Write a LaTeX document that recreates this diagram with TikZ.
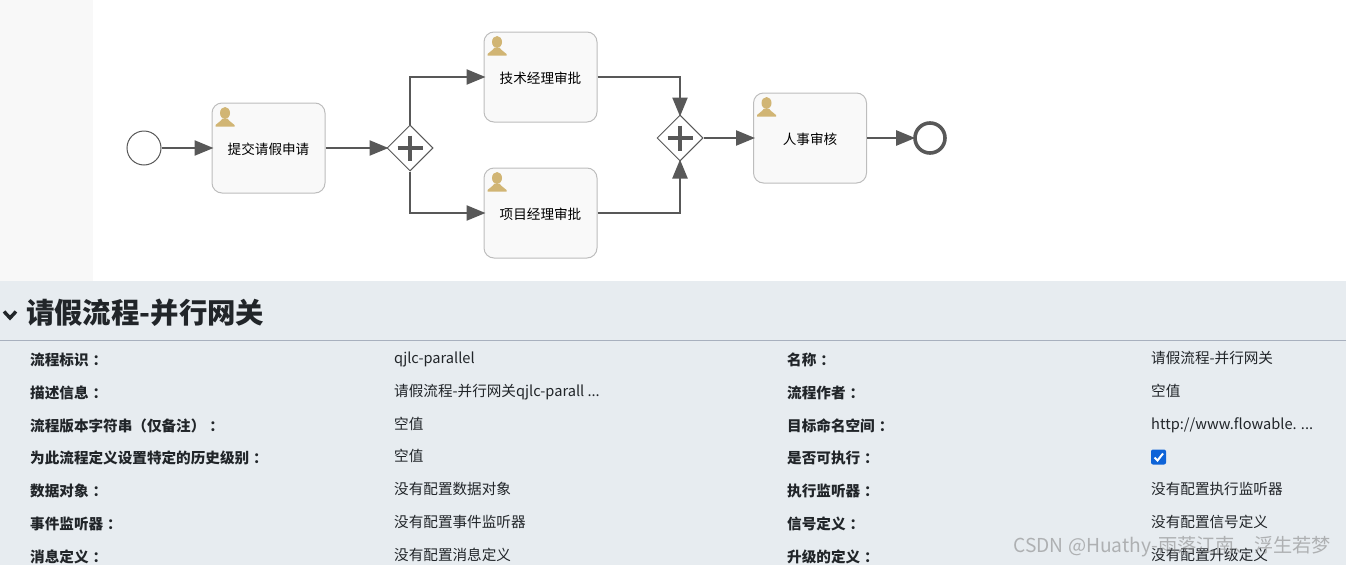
\documentclass[tikz,border=0pt]{standalone}
\usepackage{fontspec}
\setmainfont{Noto Sans CJK SC}
\usetikzlibrary{arrows.meta,shapes.geometric}
\definecolor{flowgray}{HTML}{585858}
\definecolor{panelbg}{HTML}{E7ECF0}
\definecolor{stripbg}{HTML}{F8F8F8}
\definecolor{taskbg}{HTML}{F9F9F9}
\definecolor{taskline}{HTML}{BDBDBD}
\definecolor{usercolor}{HTML}{D1B574}
\definecolor{inkcolor}{HTML}{212529}
\definecolor{checkblue}{HTML}{0D63D8}
\definecolor{ruleline}{HTML}{A8B0BE}
\newcommand{\descvalue}{请假流程-并行网关qjlc-parall ...}
\newcommand{\nsvalue}{http://www.flowable. ...}
\newcommand{\fieldcolon}{\hspace{4pt}：}
\tikzset{
	task/.style={draw=taskline,fill=taskbg,line width=1pt,rounded corners=10pt,minimum width=113pt,minimum height=90pt,inner sep=0pt,text height=14pt,text depth=1.6pt,font=\fontsize{13.6}{16}\selectfont,text=black},
	gateway/.style={diamond,aspect=1,draw=flowgray,fill=white,line width=1pt,minimum size=46pt,inner sep=0pt,
		path picture={\draw[flowgray,line width=3.6pt] (path picture bounding box.center) +(-12.5,0) -- +(12.5,0) +(0,-12.5) -- +(0,12.5);}},
	startevent/.style={circle,draw=flowgray,fill=white,line width=1pt,minimum size=34pt,inner sep=0pt},
	endevent/.style={circle,draw=flowgray,fill=white,line width=3.6pt,minimum size=30pt,inner sep=0pt},
	flow/.style={draw=flowgray,line width=2.4pt,shorten >=-2pt,-{Triangle[length=19pt,width=15pt]}},
	usericon/.pic={
		\fill[usercolor] (9.5,6.5) ellipse (5 and 6);
		\fill[usercolor] (0,20) -- (0,18.5) .. controls (2,16) and (5,15.5) .. (7,12) -- (12,12) .. controls (14,15.5) and (17,16) .. (19,18.5) -- (19,20) -- cycle;
	},
	fieldname/.style={anchor=base west,inner sep=0pt,font=\fontsize{14.6}{16}\selectfont\bfseries,text=inkcolor},
	fieldvalue/.style={anchor=base west,inner sep=0pt,font=\fontsize{14.6}{16}\selectfont,text=inkcolor}
}
\begin{document}
\begin{tikzpicture}[x=1pt,y=-1pt]
\useasboundingbox (0,0) rectangle (1346,565);
\fill[stripbg] (0,0) rectangle (93,281);
\fill[panelbg] (0,281) rectangle (1346,565);
\draw[ruleline,line width=1pt] (0,340.5) -- (1346,340.5);

\node [startevent] (start) at (144,148) {};
\node [task] (submit) at (268.5,148) {提交请假申请};
\node [gateway] (fork) at (410,148) {};
\node [task] (techreview) at (540.5,77) {技术经理审批};
\node [task] (projreview) at (540.5,213) {项目经理审批};
\node [gateway] (join) at (680,138) {};
\node [task] (hrreview) at (810,138) {人事审核};
\node [endevent] (finish) at (930,138) {};

\foreach \t in {submit,techreview,projreview,hrreview}
	\pic at ([xshift=4pt,yshift=-4pt]\t.north west) {usericon};

\draw [flow] (start) -- (submit);
\draw [flow] (submit) -- (fork);
\draw [flow] (fork.north) |- (techreview);
\draw [flow] (fork.south) |- (projreview);
\draw [flow] (techreview) -| (join.north);
\draw [flow] (projreview) -| (join.south);
\draw [flow] (join) -- (hrreview);
\draw [flow] (hrreview) -- (finish);

\coordinate (chevl) at (4,311.5);
\coordinate (chevm) at (10,318);
\coordinate (chevr) at (16,311.5);
\draw [inkcolor,line width=3.4pt] (chevl) -- (chevm) -- (chevr);
\node [anchor=base west,inner sep=0pt,font=\fontsize{28.4}{30}\selectfont\bfseries,text=inkcolor] (title) at (26,323) {请假流程-并行网关};

\foreach \i/\y/\a/\b/\c/\d in {
	1/365/流程标识/qjlc-parallel/名称/请假流程-并行网关,
	2/398/描述信息/\descvalue/流程作者/空值,
	3/431/流程版本字符串（仅备注）/空值/目标命名空间/\nsvalue,
	4/463/为此流程定义设置特定的历史级别/空值/是否可执行/{},
	5/496/数据对象/没有配置数据对象/执行监听器/没有配置执行监听器,
	6/529/事件监听器/没有配置事件监听器/信号定义/没有配置信号定义,
	7/562/消息定义/没有配置消息定义/升级的定义/没有配置升级定义}
{
	\node [fieldname] (namea\i) at (30,\y) {\a\fieldcolon};
	\node [fieldvalue] (valuea\i) at (394,\y-2) {\b};
	\node [fieldname] (nameb\i) at (787,\y) {\c\fieldcolon};
	\node [fieldvalue] (valueb\i) at (1151,\y-2) {\d};
}

\node [fill=checkblue,rounded corners=2pt,minimum size=15pt,inner sep=0pt] (checkbox) at (1158.5,457) {};
\draw [white,line width=2pt] ([shift={(-4,0.5)}]checkbox.center) -- ([shift={(-1,3.5)}]checkbox.center) -- ([shift={(4.5,-3.5)}]checkbox.center);

\node [anchor=base east,inner sep=0pt,font=\fontsize{19.2}{22}\selectfont,text=gray,opacity=0.55] (watermark) at (1331,552) {CSDN @Huathy-雨落江南、浮生若梦};
\end{tikzpicture}
\end{document}
